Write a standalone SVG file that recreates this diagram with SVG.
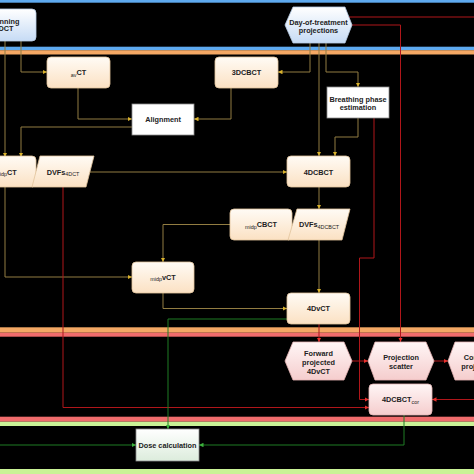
<svg xmlns="http://www.w3.org/2000/svg" width="474" height="474" viewBox="0 0 474 474">
<defs>
<linearGradient id="gBlue" x1="0" y1="0" x2="0" y2="1"><stop offset="0" stop-color="#ffffff"/><stop offset="1" stop-color="#c6dbf5"/></linearGradient>
<linearGradient id="gOrange" x1="0" y1="0" x2="0" y2="1"><stop offset="0" stop-color="#fffbf5"/><stop offset="1" stop-color="#fbe1c3"/></linearGradient>
<linearGradient id="gRed" x1="0" y1="0" x2="0" y2="1"><stop offset="0" stop-color="#fff6f6"/><stop offset="1" stop-color="#f5cdcd"/></linearGradient>
<linearGradient id="gGreen" x1="0" y1="0" x2="0" y2="1"><stop offset="0" stop-color="#ffffff"/><stop offset="1" stop-color="#dcecdc"/></linearGradient>
<marker id="ay" viewBox="0 0 6 6" refX="6" refY="3" markerWidth="4.5" markerHeight="4.5" markerUnits="userSpaceOnUse" orient="auto"><path d="M0,0 L6,3 L0,6 z" fill="#d9b22c"/></marker>
<marker id="ar" viewBox="0 0 6 6" refX="6" refY="3" markerWidth="4.5" markerHeight="4.5" markerUnits="userSpaceOnUse" orient="auto"><path d="M0,0 L6,3 L0,6 z" fill="#e8302c"/></marker>
<marker id="agr" viewBox="0 0 6 6" refX="6" refY="3" markerWidth="4.5" markerHeight="4.5" markerUnits="userSpaceOnUse" orient="auto"><path d="M0,0 L6,3 L0,6 z" fill="#3cb23c"/></marker>
</defs>
<style>
text{font-family:"Liberation Sans",Arial,sans-serif;font-size:7.3px;font-weight:bold;fill:#222;text-anchor:middle}
.sub{font-size:5.4px;font-weight:normal}
.nb{fill:url(#gBlue);stroke:#b8cde6;stroke-width:0.8}
.no{fill:url(#gOrange);stroke:#e2c49c;stroke-width:0.8}
.nr{fill:url(#gRed);stroke:#e6b4b4;stroke-width:0.8}
.nw{fill:#ffffff;stroke:#8c8c8c;stroke-width:0.8}
.ng{fill:url(#gGreen);stroke:#8c8c8c;stroke-width:0.8}
.cy{fill:none;stroke:#927d42;stroke-width:1;marker-end:url(#ay)}
.cyn{fill:none;stroke:#927d42;stroke-width:1}
.cr{fill:none;stroke:#b0161a;stroke-width:1;marker-end:url(#ar)}
.crn{fill:none;stroke:#b0161a;stroke-width:1}
.cg{fill:none;stroke:#1f7d24;stroke-width:1;marker-end:url(#agr)}
</style>
<rect x="0" y="0" width="474" height="474" fill="#000000"/>
<g id="lanes">
<rect x="0" y="0" width="474" height="2.7" fill="#5eaaf0"/>
<rect x="0" y="46.7" width="474" height="3.5" fill="#5eaaf0"/>
<rect x="0" y="50.2" width="474" height="4.3" fill="#f4a864"/>
<rect x="0" y="327.3" width="474" height="5.4" fill="#f4a864"/>
<rect x="0" y="332.7" width="474" height="4" fill="#f06c6c"/>
<rect x="0" y="416.7" width="474" height="5" fill="#f06c6c"/>
<rect x="0" y="421.7" width="474" height="4.3" fill="#c9f296"/>
<rect x="0" y="469" width="474" height="5" fill="#c9f296"/>
</g>
<g id="connectors">
<path class="cy" d="M5,41 V157"/>
<path class="cy" d="M21,41 V72 H47"/>
<path class="cy" d="M78,88 V119 H132"/>
<path class="cy" d="M231,88 V119 H194"/>
<path class="cy" d="M132,127 H21 V157"/>
<path class="cy" d="M310,43 V72 H278"/>
<path class="cy" d="M319,43 V156"/>
<path class="cy" d="M326,43 V72 H358 V87"/>
<path class="cy" d="M358,118 V137 H335 V156"/>
<path class="cy" d="M90,172 H287"/>
<path class="cy" d="M319,187 V209"/>
<path class="cy" d="M230,224.5 H163 V262"/>
<path class="cy" d="M5,187 V277 H132"/>
<path class="cy" d="M319,240 V293"/>
<path class="cy" d="M163,293 V308.5 H287"/>
<path class="crn" d="M349,17 H474"/>
<path class="cr" d="M352,25 H400.5 V342"/>
<path class="cr" d="M374,118 V258 H359.5 V399.5 H369"/>
<path class="cr" d="M63,187 V407.5 H369"/>
<path class="cr" d="M319,324 V342"/>
<path class="cr" d="M352,361 H368"/>
<path class="cr" d="M434,361 H448"/>
<path class="cr" d="M474,399.5 H432"/>
<path class="cg" d="M287,319 H168 V429"/>
<path class="cg" d="M0,445 H136"/>
<path class="cg" d="M404,415 V445 H199"/>
</g>
<g id="planning4dct">
<rect class="nb" x="-26" y="9" width="62" height="32" rx="4"/>
<text x="4" y="23.8">Planning</text>
<text x="4" y="31.4">4DCT</text>
</g>
<g id="dayoftreatment">
<polygon class="nb" points="285,25 293,7 345,7 352,25 345,43 293,43"/>
<text x="318.5" y="24.6">Day-of-treatment</text>
<text x="318.5" y="32.9">projections</text>
</g>
<g id="avct">
<rect class="no" x="47" y="57" width="63" height="31" rx="4"/>
<text x="78.5" y="75"><tspan class="sub" dy="1.5">av</tspan><tspan dy="-1.5">CT</tspan></text>
</g>
<g id="dcbct3">
<rect class="no" x="215" y="57" width="63" height="31" rx="4"/>
<text x="246.5" y="75">3DCBCT</text>
</g>
<g id="alignment">
<rect class="nw" x="132" y="104" width="62" height="31"/>
<text x="163" y="122">Alignment</text>
</g>
<g id="breathing">
<rect class="nw" x="327" y="87" width="62" height="31"/>
<text x="358" y="101.6">Breathing phase</text>
<text x="358" y="110.3">estimation</text>
</g>
<g id="midpct">
<rect class="no" x="-26" y="156" width="62" height="31" rx="4"/>
<text x="6" y="174.6"><tspan class="sub" dy="1.5">midp</tspan><tspan dy="-1.5">CT</tspan></text>
</g>
<g id="dvfs4dct">
<polygon class="no" points="40,156 94,156 86,187 32,187"/>
<text x="63" y="174.6">DVFs<tspan class="sub" dy="1.5">4DCT</tspan></text>
</g>
<g id="dcbct4">
<rect class="no" x="287" y="156" width="63" height="31" rx="4"/>
<text x="318.5" y="175">4DCBCT</text>
</g>
<g id="midpcbct">
<rect class="no" x="230" y="209" width="62" height="31" rx="4"/>
<text x="261" y="227"><tspan class="sub" dy="1.5">midp</tspan><tspan dy="-1.5">CBCT</tspan></text>
</g>
<g id="dvfs4dcbct">
<polygon class="no" points="297,209 350,209 342,240 288,240"/>
<text x="319" y="227">DVFs<tspan class="sub" dy="1.5">4DCBCT</tspan></text>
</g>
<g id="midpvct">
<rect class="no" x="132" y="262" width="62" height="31" rx="4"/>
<text x="163" y="279.5"><tspan class="sub" dy="1.5">midp</tspan><tspan dy="-1.5">vCT</tspan></text>
</g>
<g id="dvct4">
<rect class="no" x="287" y="293" width="63" height="31" rx="4"/>
<text x="318.5" y="311.3">4DvCT</text>
</g>
<g id="forward">
<polygon class="nr" points="285,361 293,342 344,342 352,361 344,380 293,380"/>
<text x="318.5" y="356">Forward</text>
<text x="318.5" y="364.8">projected</text>
<text x="318.5" y="373.5">4DvCT</text>
</g>
<g id="scatter">
<polygon class="nr" points="368,361 375,342 426,342 434,361 426,380 375,380"/>
<text x="401" y="360.3">Projection</text>
<text x="401" y="368.8">scatter</text>
</g>
<g id="corrected">
<polygon class="nr" points="448,361 455,342 507,342 514,361 507,380 455,380"/>
<text x="481" y="360.3">Corrected</text>
<text x="481" y="368.8">projections</text>
</g>
<g id="dcbctcor">
<rect class="nr" x="369" y="384" width="63" height="31" rx="4"/>
<text x="400.5" y="402">4DCBCT<tspan class="sub" dy="1.5">cor</tspan></text>
</g>
<g id="dose">
<rect class="ng" x="136" y="429" width="63" height="32"/>
<text x="167.5" y="448">Dose calculation</text>
</g>
</svg>
